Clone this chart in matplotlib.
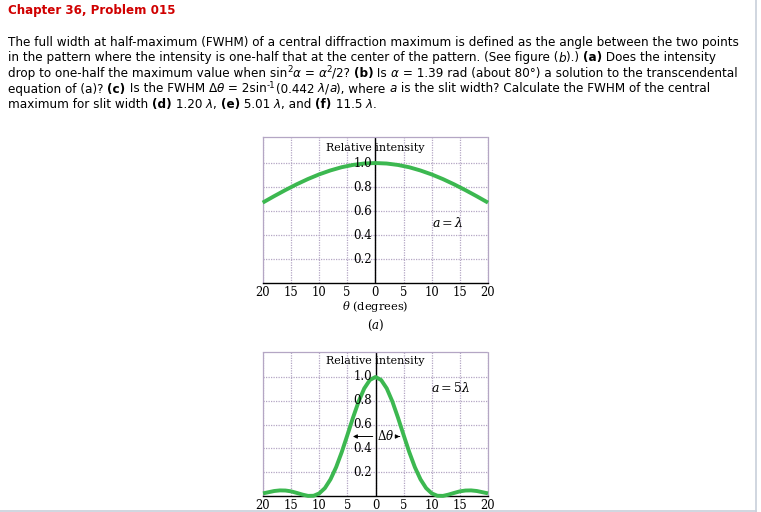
import matplotlib
matplotlib.use('Agg')
import matplotlib.pyplot as plt

W, H = 761, 512

# text of the problem, split into styled pieces (n=normal, b=bold, i=italic, s=superscript)
title = "Chapter 36, Problem 015"
body_lines = [
    [("The full width at half-maximum (FWHM) of a central diffraction maximum is defined as the angle between the two points", "n")],
    [("in the pattern where the intensity is one-half that at the center of the pattern. (See figure (", "n"), ("b", "i"),
     (").) ", "n"), ("(a)", "b"), (" Does the intensity", "n")],
    [("drop to one-half the maximum value when sin", "n"), ("2", "s"), ("α", "i"), (" = ", "n"), ("α", "i"), ("2", "s"),
     ("/2? ", "n"), ("(b)", "b"), (" Is ", "n"), ("α", "i"),
     (" = 1.39 rad (about 80°) a solution to the transcendental", "n")],
    [("equation of (a)? ", "n"), ("(c)", "b"), (" Is the FWHM Δ", "n"), ("θ", "i"), (" = 2sin", "n"), ("-1", "s"),
     ("(0.442 ", "n"), ("λ", "i"), ("/", "n"), ("a", "i"), ("), where ", "n"), ("a", "i"),
     (" is the slit width? Calculate the FWHM of the central", "n")],
    [("maximum for slit width ", "n"), ("(d)", "b"), (" 1.20 ", "n"), ("λ", "i"), (", ", "n"), ("(e)", "b"),
     (" 5.01 ", "n"), ("λ", "i"), (", and ", "n"), ("(f)", "b"), (" 11.5 ", "n"), ("λ", "i"), (".", "n")],
]

# figure (a): slit width a = lambda
theta_a = [-20, -18, -16, -14, -12, -10, -8, -6, -4, -2, 0, 2, 4, 6, 8, 10, 12, 14, 16, 18, 20]
inten_a = [0.670, 0.723, 0.774, 0.822, 0.866, 0.905, 0.938, 0.965, 0.984, 0.996, 1.0,
           0.996, 0.984, 0.965, 0.938, 0.905, 0.866, 0.822, 0.774, 0.723, 0.670]

# figure (b): slit width a = 5 lambda
theta_b = [-20, -19, -18, -17, -16, -15, -14, -13, -12, -11, -10, -9, -8, -7, -6, -5, -4, -3, -2, -1, 0,
           1, 2, 3, 4, 5, 6, 7, 8, 9, 10, 11, 12, 13, 14, 15, 16, 17, 18, 19, 20]
inten_b = [0.022, 0.032, 0.042, 0.047, 0.046, 0.039, 0.026, 0.012, 0.001, 0.002, 0.022, 0.066, 0.140, 0.242,
           0.369, 0.512, 0.658, 0.794, 0.904, 0.975, 1.0,
           0.975, 0.904, 0.794, 0.658, 0.512, 0.369, 0.242, 0.140, 0.066, 0.022, 0.002, 0.001, 0.012, 0.026,
           0.039, 0.046, 0.047, 0.042, 0.032, 0.022]

x_ticks = [-20, -15, -10, -5, 0, 5, 10, 15, 20]
x_labels = ["20", "15", "10", "5", "0", "5", "10", "15", "20"]
y_ticks = [0.2, 0.4, 0.6, 0.8, 1.0]
y_labels = ["0.2", "0.4", "0.6", "0.8", "1.0"]

GREEN = "#3cb850"
GRID = "#b4a6c4"
BODY_SIZE = 8.64
SERIF = "DejaVu Serif"

plt.rcParams['mathtext.fontset'] = 'dejavuserif'

fig = plt.figure(figsize=(W / 100, H / 100), dpi=100)
renderer = fig.canvas.get_renderer()


def px(x, y):
    return x / W, 1 - y / H


def style_kw(style):
    kw = dict(family="DejaVu Sans", size=BODY_SIZE, color="black")
    if style == "b":
        kw["weight"] = "bold"
    elif style == "i":
        kw["style"] = "italic"
    elif style == "s":
        kw["size"] = BODY_SIZE * 0.72
    return kw


def text_width(s, kw):
    # measure with a sentinel so that spaces count
    t = fig.text(0, 0, s + "|", **kw)
    w1 = t.get_window_extent(renderer).width
    t.remove()
    t = fig.text(0, 0, "|", **kw)
    w2 = t.get_window_extent(renderer).width
    t.remove()
    return w1 - w2


def rich_line(x, y, parts):
    for s, style in parts:
        kw = style_kw(style)
        dy = -4.5 if style == "s" else 0
        fig.text(*px(x, y + dy), s, va="baseline", ha="left", **kw)
        x += text_width(s, kw)


fig.text(*px(8, 14), title, color="#d00000", weight="bold", size=8.6, family="DejaVu Sans", va="baseline")

baselines = [46, 61.5, 77, 92.5, 108]
for yb, parts in zip(baselines, body_lines):
    rich_line(8, yb, parts)


def intensity_panel(left, right, top, bottom, ytop, theta, inten):
    x0, y0 = px(left, bottom)
    x1, y1 = px(right, top)
    ax = fig.add_axes([x0, y0, x1 - x0, y1 - y0])
    ax.set_xlim(-20, 20)
    ax.set_ylim(0, ytop)
    for xv in x_ticks:
        ax.axvline(xv, color=GRID, lw=0.9, ls=(0, (1, 1)), zorder=1)
    for yv in y_ticks:
        ax.axhline(yv, color=GRID, lw=0.9, ls=(0, (1, 1)), zorder=1)
    ax.axvline(0, color="black", lw=1.0, zorder=2)
    for side in ["top", "left", "right"]:
        ax.spines[side].set_color(GRID)
        ax.spines[side].set_linestyle((0, (1, 1)))
        ax.spines[side].set_linewidth(0.9)
    ax.spines["bottom"].set_color("black")
    ax.spines["bottom"].set_linewidth(1.0)
    ax.plot(theta, inten, color=GREEN, lw=2.8, zorder=3, solid_capstyle="butt", clip_on=False)
    ax.set_xticks(x_ticks)
    ax.set_xticklabels(x_labels, family=SERIF, size=8.3)
    ax.tick_params(axis="x", length=0, pad=2)
    ax.set_yticks([])
    for yv, lab in zip(y_ticks, y_labels):
        ax.annotate(lab, (0, yv), xytext=(-2.5, 0), textcoords="offset points",
                    ha="right", va="center", family=SERIF, size=8.5, zorder=4)
    return ax


# panel (a)
ax_a = intensity_panel(262.7, 488, 137, 283, 1.217, theta_a, inten_a)
ax_a.text(0, 1.125, "Relative intensity", ha="center", va="center", family=SERIF, size=8.0, zorder=4)
ax_a.text(12.8, 0.5, r"$a = \lambda$", ha="center", va="center", size=9, zorder=4)
ax_a.text(0, -0.2, r"$\theta$ (degrees)", ha="center", va="center", family=SERIF, size=8.2, clip_on=False)
ax_a.text(0, -0.35, r"$(a)$", ha="center", va="center", size=8.5, clip_on=False)

# panel (b)
ax_b = intensity_panel(263, 488, 352, 496, 1.21, theta_b, inten_b)
ax_b.text(0, 1.134, "Relative intensity", ha="center", va="center", family=SERIF, size=8.0, zorder=4)
ax_b.text(13.3, 0.91, r"$a = 5\lambda$", ha="center", va="center", size=9, zorder=4)
ax_b.annotate("", xy=(-4.5, 0.5), xytext=(0, 0.5),
              arrowprops=dict(arrowstyle="-|>", color="black", lw=0.7, mutation_scale=6), zorder=4)
ax_b.text(0.25, 0.5, r"$\Delta\theta$", ha="left", va="center", size=8.5, zorder=4)
ax_b.annotate("", xy=(4.8, 0.5), xytext=(3.8, 0.5),
              arrowprops=dict(arrowstyle="-|>", color="black", lw=0.7, mutation_scale=6), zorder=4)

# page border of the screenshot
fig.add_artist(plt.Line2D([756 / W, 756 / W], [0, 1], color="#c8d0da", lw=1.2))
fig.add_artist(plt.Line2D([0, 756 / W], [1 - 510.5 / H, 1 - 510.5 / H], color="#c8d0da", lw=1.2))

fig.savefig("out.png", dpi=100)
